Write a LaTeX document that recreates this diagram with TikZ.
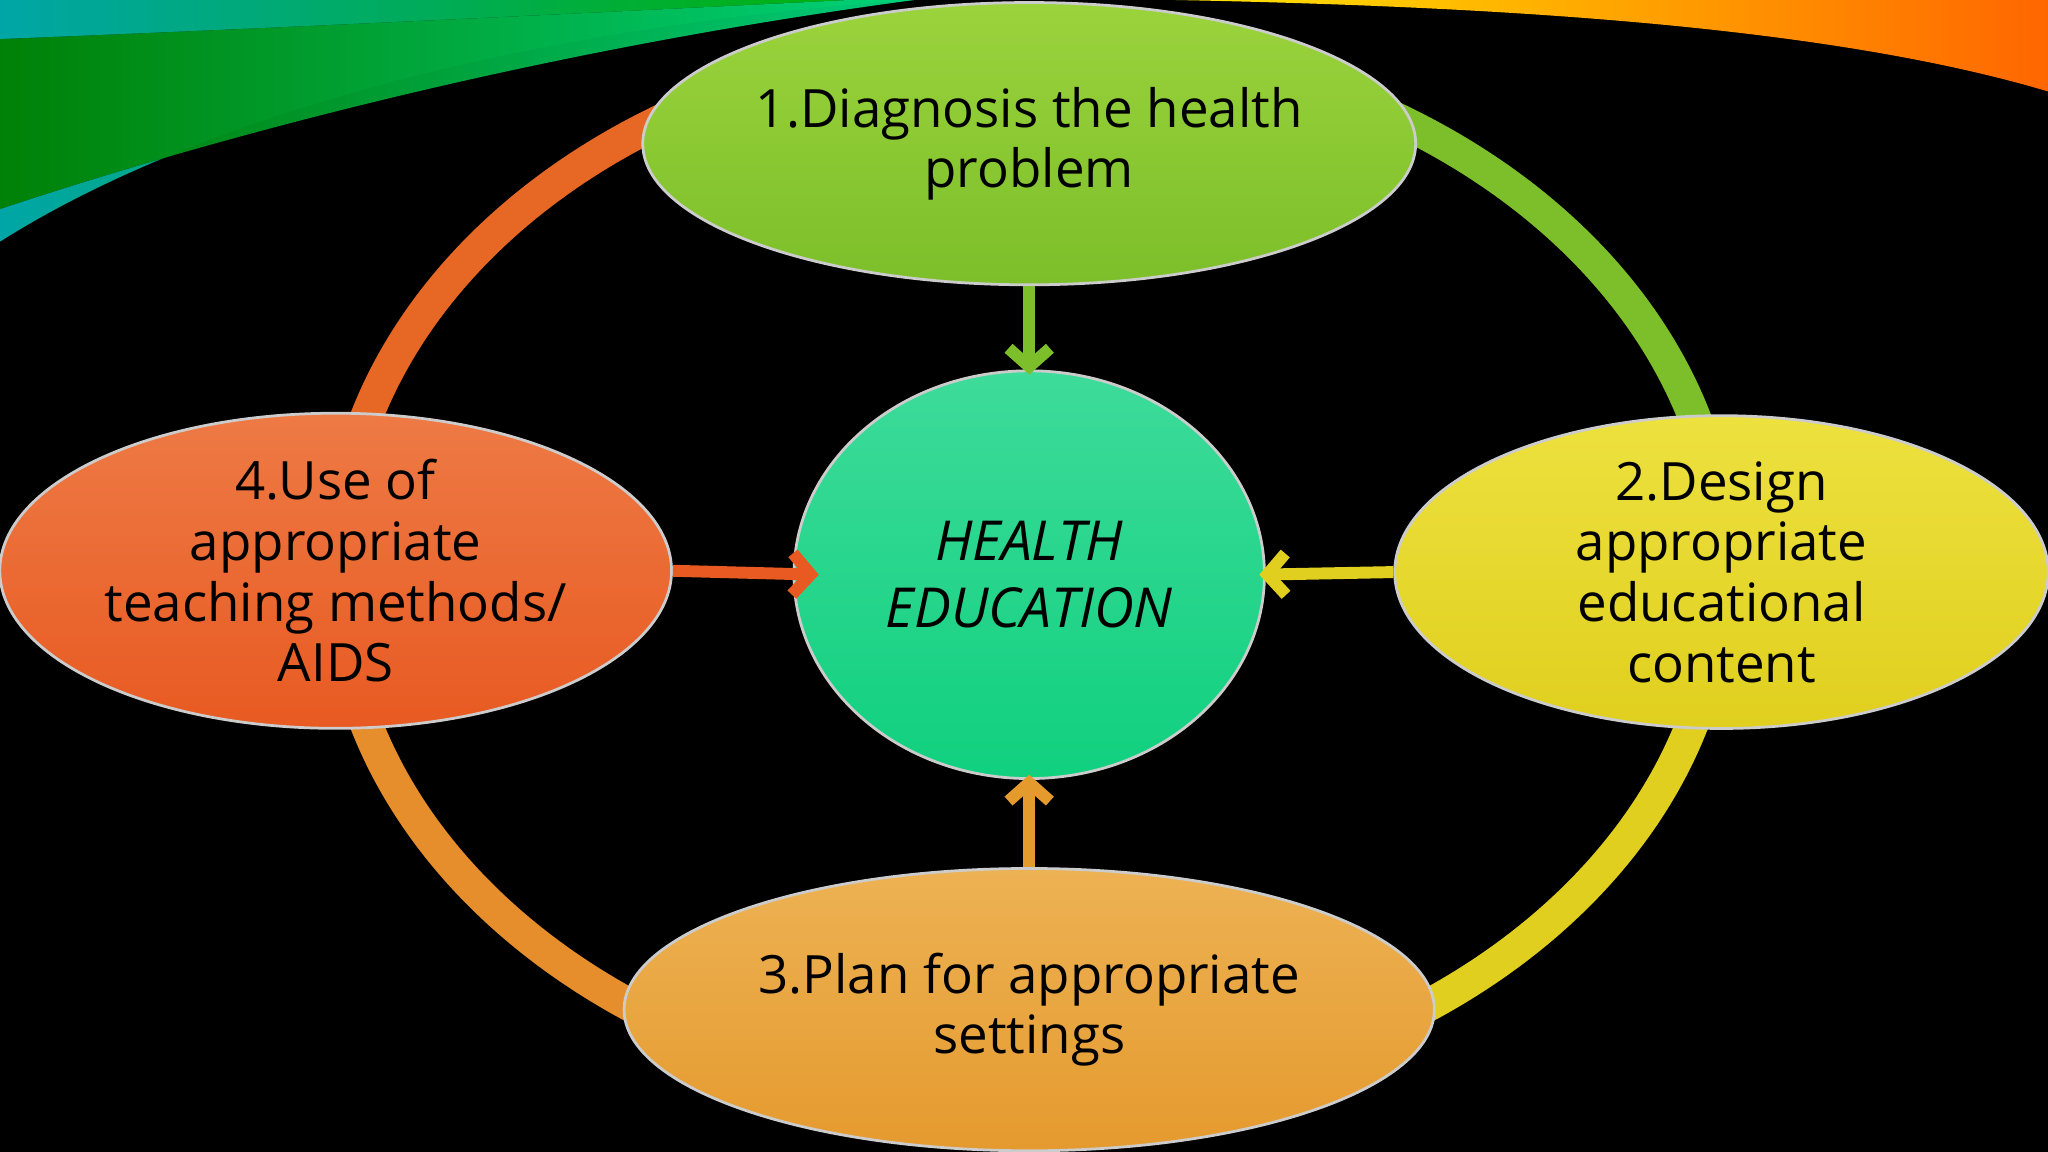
\documentclass[tikz,border=0pt]{standalone}
\usepackage{fontspec}
\setmainfont{Open Sans}
\usetikzlibrary{shapes.geometric,arrows.meta}
\definecolor{gA}{HTML}{9BD33C}\definecolor{gB}{HTML}{7CBF2A}
\definecolor{yA}{HTML}{EDE13F}\definecolor{yB}{HTML}{E0CF1E}
\definecolor{oA}{HTML}{EDB254}\definecolor{oB}{HTML}{E59A2E}
\definecolor{rA}{HTML}{EE7A45}\definecolor{rB}{HTML}{E85A22}
\definecolor{tA}{HTML}{3EDB9A}\definecolor{tB}{HTML}{10D07E}
\tikzset{
 blob/.style={ellipse,draw=white!80!black,line width=0.6pt,align=center,
   font=\fontsize{11.5}{13.2}\selectfont,text=black,inner sep=0pt},
 arr/.style={line width=2.6pt,-{Straight Barb[length=4pt,width=9pt,line width=2.6pt]}},
 ring/.style={line width=0.25cm}
}
\begin{document}
\begin{tikzpicture}[x=0.01cm,y=-0.01cm]
\fill[black] (0,0) rectangle (1568,882);
\useasboundingbox (0,0) rectangle (1568,882);
% streaks
\fill[left color=teal!70!cyan,right color=green!70!black] (0,0) -- (700,0) .. controls (400,20) and (150,90) .. (0,185) -- cycle;
\fill[left color=green!60!black,right color=cyan!60!green,opacity=0.8] (0,30) .. controls (250,20) and (450,10) .. (650,0) -- (700,0) .. controls (400,40) and (150,110) .. (0,160) -- cycle;
\fill[left color=yellow!80!orange,right color=orange!80!red] (900,0) -- (1568,0) -- (1568,70) .. controls (1400,20) and (1150,5) .. (900,0) -- cycle;
% ring (y axis flipped: angles mirrored)
\draw[ring,color=rB!80!oB] (258,437) arc[start angle=180,end angle=245,x radius=530,y radius=407];
\draw[ring,color=gB] ([shift={(0,0)}]565.9,68.1) arc[start angle=245,end angle=360,x radius=530,y radius=407];
\draw[ring,color=yB] (1318,437) arc[start angle=0,end angle=80,x radius=530,y radius=407];
\draw[ring,color=oB!80!rB] (258,437) arc[start angle=180,end angle=100,x radius=530,y radius=407];
\draw[ring,color=oB] (671,836) arc[start angle=102,end angle=78,x radius=530,y radius=407];
% nodes
\node[blob,minimum width=3.6cm,minimum height=3.12cm,top color=tA,bottom color=tB,
  font=\fontsize{12}{14.5}\selectfont\itshape] (c) at (788,440) {HEALTH\\EDUCATION};
\node[blob,minimum width=5.9cm,minimum height=2.16cm,top color=gA,bottom color=gB] (n1) at (788,110) {1.Diagnosis the health\\problem};
\node[blob,minimum width=5.0cm,minimum height=2.16cm,top color=yA,bottom color=yB] (n2) at (1318,438) {2.Design\\appropriate\\educational\\content};
\node[blob,minimum width=6.2cm,minimum height=2.16cm,top color=oA,bottom color=oB] (n3) at (788,773) {3.Plan for appropriate\\settings};
\node[blob,minimum width=5.14cm,minimum height=2.2cm,top color=rA,bottom color=rB] (n4) at (257,437) {4.Use of\\appropriate\\teaching methods/\\AIDS};
% arrows
\draw[arr,color=gB] (n1.south) -- ([yshift=-0.04cm]c.north);
\draw[arr,color=yB] (n2.west) -- ([xshift=-0.05cm]c.east);
\draw[arr,color=oB] (n3.north) -- ([yshift=0.04cm]c.south);
\draw[arr,color=rB] (n4.east) -- ([xshift=0.2cm]c.west);
\end{tikzpicture}
\end{document}
